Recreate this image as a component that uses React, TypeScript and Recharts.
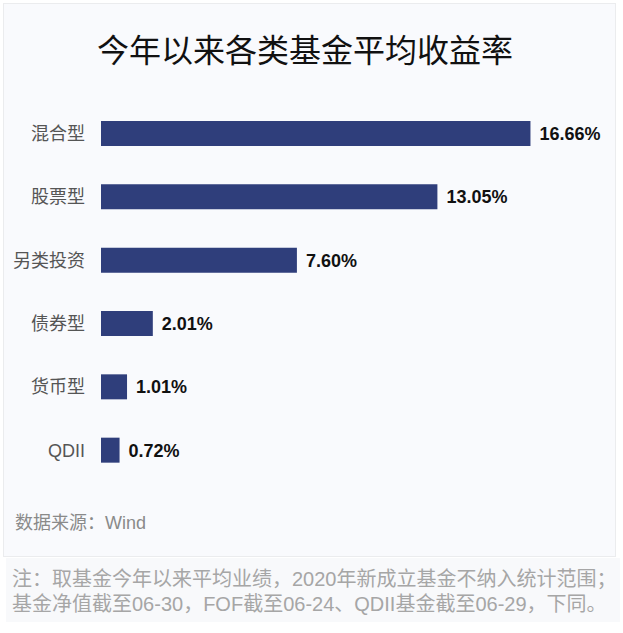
import React from 'react';
import { BarChart, Bar, XAxis, YAxis, LabelList } from 'recharts';

const categories = ['混合型', '股票型', '另类投资', '债券型', '货币型', 'QDII'];
const returns = [16.66, 13.05, 7.6, 2.01, 1.01, 0.72];
const titleText = '今年以来各类基金平均收益率';
const sourceText = '数据来源：Wind';
const noteLines = [
  '注：取基金今年以来平均业绩，2020年新成立基金不纳入统计范围；',
  '基金净值截至06-30，FOF截至06-24、QDII基金截至06-29，下同。',
];

const data = categories.map((name, i) => ({ name, value: returns[i] }));

const FONT = '"Liberation Sans", Arial, "Noto Sans CJK SC", sans-serif';

export default function App() {
  return (
    <div style={{ position: 'absolute', left: 0, top: 0, width: 623, height: 633, background: '#ffffff', fontFamily: FONT }}>
      <div style={{ position: 'absolute', left: 3, top: 3, width: 611, height: 552, background: '#f9fafd', border: '1px solid #ebecee' }} />
      <div style={{ position: 'absolute', left: 6, top: 558, width: 614, height: 64, background: '#f8f9fb' }} />
      <div style={{ position: 'absolute', left: 0, top: 30, width: 610, textAlign: 'center', fontSize: 32, lineHeight: '36px', color: '#111', fontFamily: '"Noto Sans CJK SC", sans-serif' }}>
        {titleText}
      </div>
      <div style={{ position: 'absolute', left: 0, top: 0 }}>
        <BarChart
          width={623}
          height={500}
          data={data}
          layout="vertical"
          margin={{ top: 102, right: 58, bottom: 18, left: 0 }}
        >
          <XAxis type="number" domain={[0, 18]} hide />
          <YAxis
            type="category"
            dataKey="name"
            width={101}
            axisLine={false}
            tickLine={false}
            tickMargin={10}
            tick={{ fontSize: 18, fill: '#555', fontFamily: FONT }}
          />
          <Bar dataKey="value" fill="#2f3e7b" barSize={25} isAnimationActive={false}>
            <LabelList
              dataKey="value"
              position="right"
              offset={9}
              formatter={(v: number) => v.toFixed(2) + '%'}
              style={{ fontSize: 18, fontWeight: 'bold', fill: '#111', fontFamily: FONT }}
            />
          </Bar>
        </BarChart>
      </div>
      <div style={{ position: 'absolute', left: 15, top: 512, fontSize: 18, lineHeight: '22px', color: '#8a8a8a' }}>
        {sourceText}
      </div>
      <div style={{ position: 'absolute', left: 12, top: 567, fontSize: 20, lineHeight: '25px', color: '#a6a6a6', whiteSpace: 'nowrap' }}>
        {noteLines.map((l, i) => (
          <div key={i}>{l}</div>
        ))}
      </div>
    </div>
  );
}
